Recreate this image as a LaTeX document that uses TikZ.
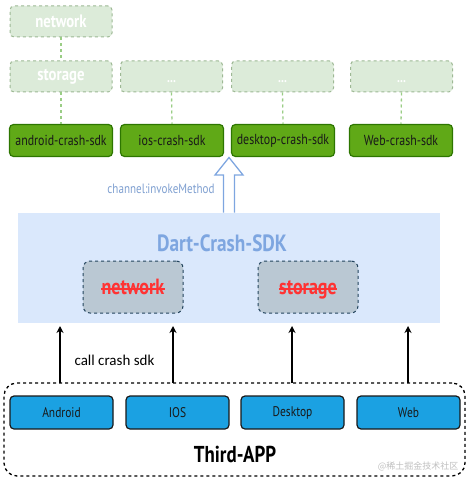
\documentclass[tikz,border=0pt]{standalone}
\usepackage{fontspec}
\setmainfont{PT Sans}
\newfontfamily\condfont[FakeStretch=0.82]{PT Sans}
\newfontfamily\callfont{Carlito}
\newfontfamily\cjkfont{Noto Sans CJK SC}
\usetikzlibrary{arrows.meta}
\definecolor{ltgreen}{HTML}{DCEBD9}
\definecolor{ltgreenborder}{HTML}{9DB894}
\definecolor{greenfill}{HTML}{60A917}
\definecolor{greenborder}{HTML}{2D7600}
\definecolor{dashgreen}{HTML}{9ACD85}
\definecolor{dartfill}{HTML}{DAE8FC}
\definecolor{darttext}{HTML}{7EA6E0}
\definecolor{grayfill}{HTML}{BAC8D3}
\definecolor{grayborder}{HTML}{23445D}
\definecolor{redtext}{HTML}{FF3333}
\definecolor{bluefill}{HTML}{1BA1E2}
\definecolor{channeltext}{HTML}{7E9FD0}
\tikzset{
  ghostbox/.style={draw=ltgreenborder, fill=ltgreen, dashed, line width=1pt, rounded corners=4pt,
    minimum width=102pt, minimum height=31pt, inner sep=0pt, text=white, font=\condfont\bfseries\fontsize{18}{18}\selectfont},
  sdkbox/.style={draw=greenborder, fill=greenfill, line width=1.2pt, rounded corners=4pt,
    minimum width=103pt, minimum height=32pt, inner sep=0pt, text=black!90, font=\condfont\fontsize{14.5}{14.5}\selectfont},
  grayboxst/.style={draw=grayborder, fill=grayfill, dashed, line width=1pt, rounded corners=7pt,
    minimum width=100pt, minimum height=52pt, inner sep=0pt},
  redlabel/.style={text=redtext, font=\condfont\bfseries\fontsize{22}{22}\selectfont, inner sep=0pt},
  appbox/.style={draw=black!90, fill=bluefill, line width=1.2pt, rounded corners=4pt,
    minimum width=103pt, minimum height=33pt, inner sep=0pt, text=black!90, font=\condfont\fontsize{14}{14}\selectfont},
  dashlink/.style={draw=dashgreen, dashed, line width=1.3pt},
  uparrow/.style={-{Stealth[length=7pt,width=7pt]}, line width=1.3pt, black},
}
\newcommand{\lowdots}{\raisebox{-6pt}[0pt][0pt]{\fontsize{14}{14}\selectfont...}}
\begin{document}
\begin{tikzpicture}[x=1pt,y=-1pt]
\useasboundingbox (0,0) rectangle (474,486);
% top ghost boxes
\node[ghostbox] (net) at (61,21.5) {network};
\node[ghostbox] (sto) at (61,76.5) {storage};
\node[ghostbox] (d1) at (171.5,76.5) {\lowdots};
\node[ghostbox] (d2) at (282.5,76.5) {\lowdots};
\node[ghostbox] (d3) at (401.5,76.5) {\lowdots};
% sdk boxes
\node[sdkbox] (asdk) at (61,140.5) {android-crash-sdk};
\node[sdkbox] (isdk) at (172,140.5) {ios-crash-sdk};
\node[sdkbox] (dsdk) at (283,140.5) {desktop-crash-sdk};
\node[sdkbox] (wsdk) at (401,140.5) {Web-crash-sdk};
% dashed links
\draw[dashlink] (net.south) -- (sto.north);
\draw[dashlink] (sto.south) -- (asdk.north);
\draw[dashlink] (d1.south) -- (isdk.north);
\draw[dashlink] (d2.south) -- (dsdk.north);
\draw[dashlink] (d3.south) -- (wsdk.north);
% Dart box
\node[fill=dartfill, minimum width=422pt, minimum height=110pt, inner sep=0pt] (dart) at (229,268) {};
\node[text=darttext, font=\condfont\bfseries\fontsize{23.5}{23.5}\selectfont] (darttitle) at (222,243) {Dart-Crash-SDK};
\node[grayboxst] (gnet) at (133,287) {};
\node[redlabel] (gnett) at (gnet.center) {network};
\draw[redtext, line width=1.1pt] ([yshift=5.5pt]gnett.base west) -- ([yshift=5.5pt]gnett.base east);
\node[grayboxst] (gsto) at (308,287) {};
\node[redlabel, anchor=base] (gstot) at (gnett.base -| gsto.center) {storage};
\draw[redtext, line width=1.1pt] ([yshift=5.5pt]gstot.base west) -- ([yshift=5.5pt]gstot.base east);
% hollow arrow
\coordinate (abot) at (229,212.5);
\coordinate (atip) at (229,157.5);
\draw[darttext, fill=white, line width=1.3pt, line join=miter]
  (223.5,212.5) -- (223.5,175) -- (215,175) -- (atip) -- (243,175) -- (234.5,175) -- (234.5,212.5);
\node[text=channeltext, font=\condfont\fontsize{13.5}{13.5}\selectfont, anchor=east] (chan) at (218,189) {channel:invokeMethod};
% Third-APP container
\node[draw=black, dashed, line width=1.3pt, rounded corners=13pt, minimum width=461pt, minimum height=93pt, inner sep=0pt] (third) at (234.5,429.5) {};
\node[font=\condfont\bfseries\fontsize{23}{23}\selectfont] (thirdt) at (235,454) {Third-APP};
\node[appbox] (and) at (61.5,412.5) {Android};
\node[appbox] (ios) at (177.5,412.5) {IOS};
\node[appbox] (desk) at (292.5,412.5) {Desktop};
\node[appbox] (web) at (408.5,412.5) {Web};
% black arrows
\coordinate (s1) at (60,383); \coordinate (e1) at (60,326);
\coordinate (s2) at (173,383); \coordinate (e2) at (173,326);
\coordinate (s3) at (292,383); \coordinate (e3) at (292,326);
\coordinate (s4) at (408,383); \coordinate (e4) at (408,326);
\draw[uparrow] (s1) -- (e1);
\draw[uparrow] (s2) -- (e2);
\draw[uparrow] (s3) -- (e3);
\draw[uparrow] (s4) -- (e4);
\node[font=\callfont\fontsize{15}{15}\selectfont, anchor=west] (call) at (71,360) {call crash sdk};
% watermark
\node[text=black!25, font=\cjkfont\fontsize{9}{9}\selectfont, anchor=east] (wm) at (462,466) {@稀土掘金技术社区};
\end{tikzpicture}
\end{document}
